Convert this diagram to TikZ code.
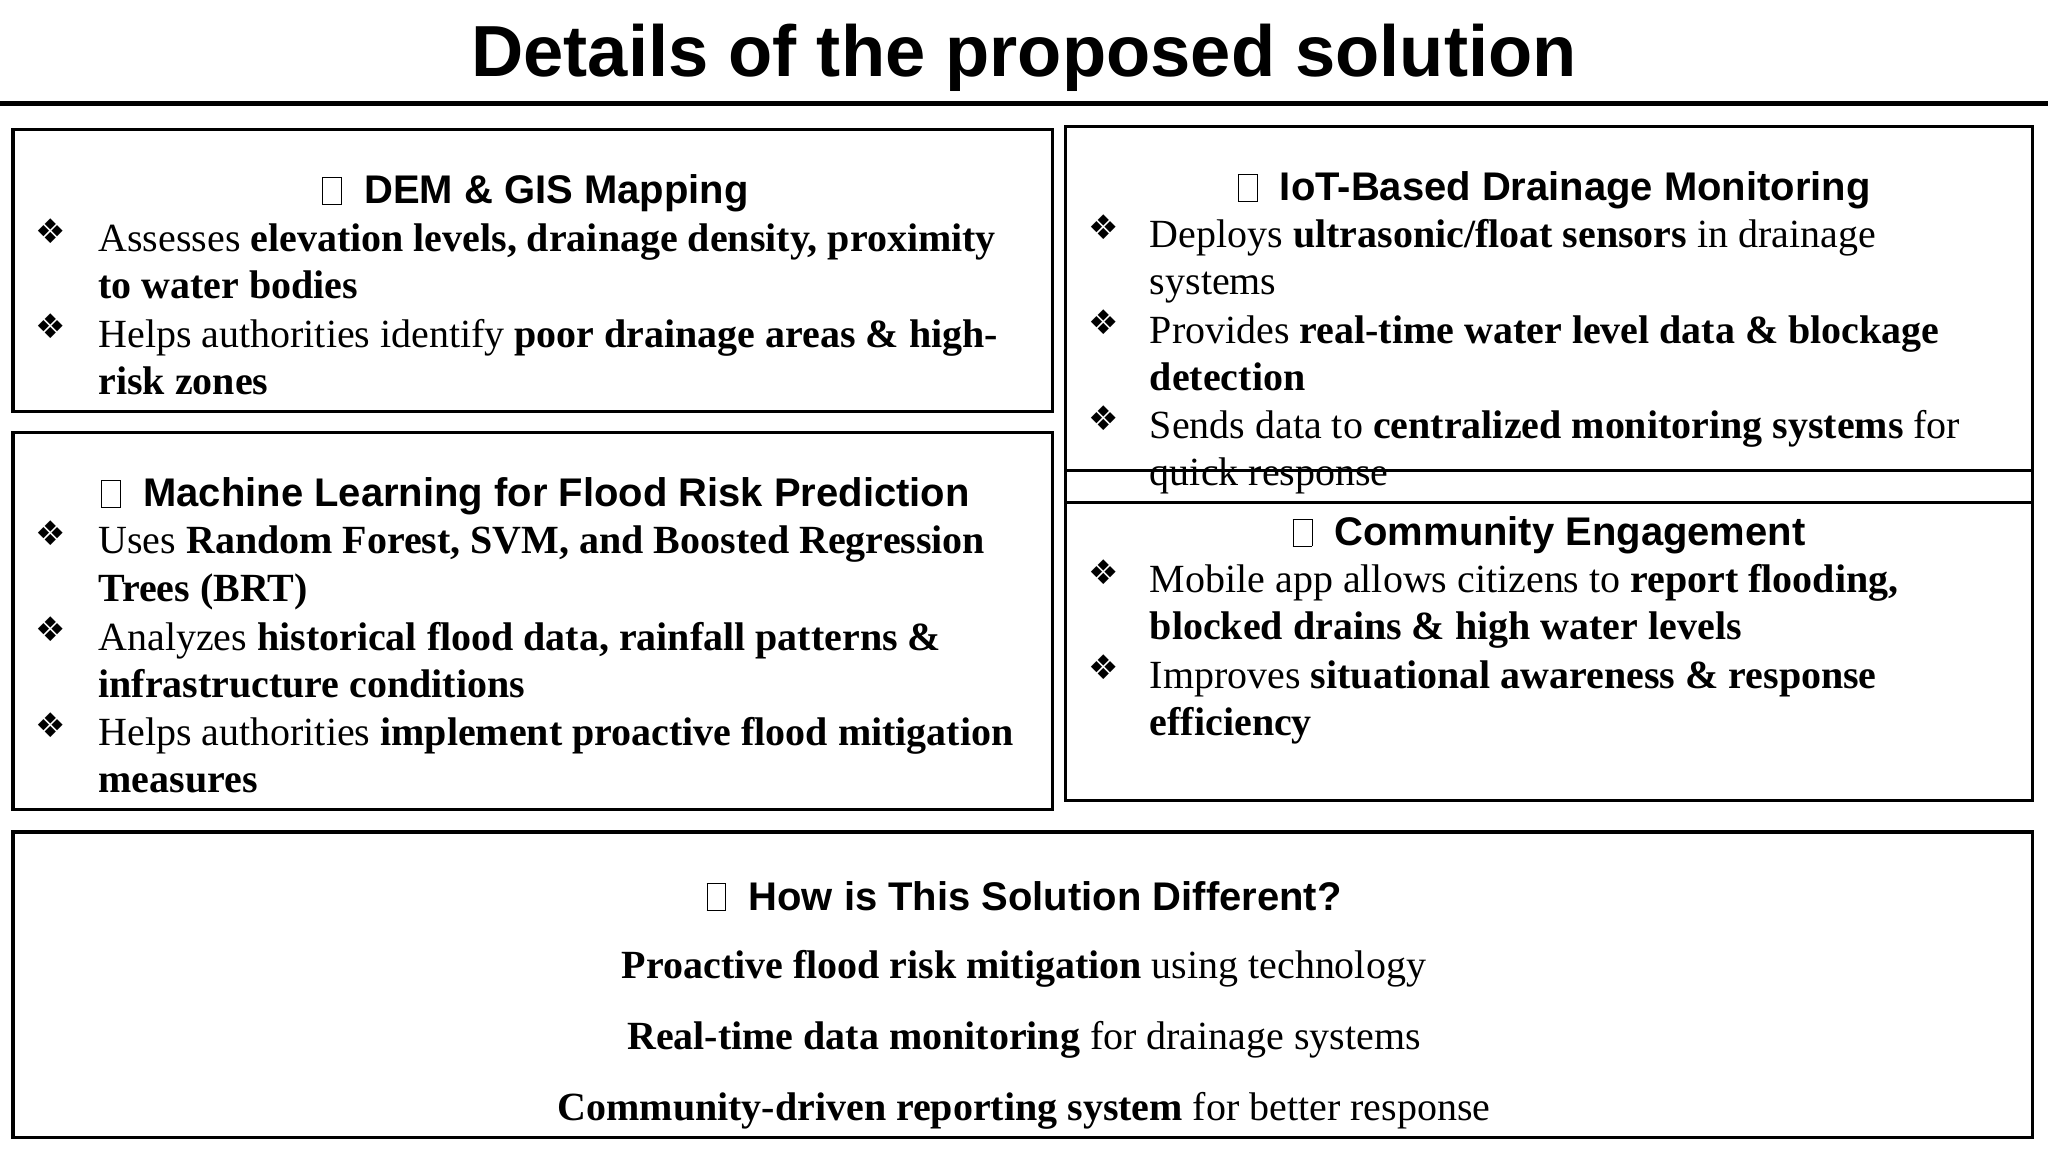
\documentclass[tikz,border=0pt]{standalone}
\usepackage{fontspec}
\setmainfont{Liberation Serif}
\setsansfont{Liberation Sans}
\newfontfamily\djv{DejaVu Sans}
\newcommand\tofu{{\setlength{\fboxsep}{0pt}\setlength{\fboxrule}{0.35pt}\fbox{\phantom{\rule{0.45em}{0.65em}}}}\ \ }
\begin{document}
\begin{tikzpicture}[x=0.5pt,y=-0.5pt,
  box/.style={draw=black,line width=1.2pt},
  hd/.style={font=\sffamily\bfseries\fontsize{15.3}{18}\selectfont,inner sep=0pt,yshift=-1.5pt},
  ln/.style={anchor=west,font=\fontsize{15.3}{18}\selectfont,inner sep=0pt,text height=0.7em,text depth=0.22em,yshift=-2.5pt},
  cl/.style={font=\fontsize{15.3}{18}\selectfont,inner sep=0pt,text height=0.7em,text depth=0.22em,yshift=-2.5pt},
  bl/.style={anchor=west,font=\djv\bfseries\fontsize{13}{14}\selectfont,inner sep=0pt}]
\useasboundingbox (0,0) rectangle (1568,882);
\fill[white] (0,0) rectangle (1568,882);
\node[font=\sffamily\bfseries\fontsize{27.7}{30}\selectfont] (title) at (784,44) {Details of the proposed solution};
\draw[line width=2pt] (0,79) coordinate (ta) -- (1568,79) coordinate (tb);
% boxes
\draw[box] (10,99) rectangle (806,315);
\draw[box] (10,331) rectangle (806,620);
\draw[box] (816,97) rectangle (1556,385);
\draw[box] (816,360) rectangle (1556,613);
\draw[box] (10,637) rectangle (1556,871);
% box 1
\node[hd] (h1) at (410,145) {\tofu DEM \& GIS Mapping};
\node[bl] (b11) at (27,177) {❖};
\node[ln] (l11) at (75,183) {Assesses \textbf{elevation levels, drainage density, proximity}};
\node[ln] (l12) at (75,219) {\textbf{to water bodies}};
\node[bl] (b12) at (27,250) {❖};
\node[ln] (l13) at (75,256) {Helps authorities identify \textbf{poor drainage areas \& high-}};
\node[ln] (l14) at (75,292) {\textbf{risk zones}};
% box 2
\node[hd] (h2) at (410,377) {\tofu Machine Learning for Flood Risk Prediction};
\node[bl] (b21) at (27,408) {❖};
\node[ln] (l21) at (75,414) {Uses \textbf{Random Forest, SVM, and Boosted Regression}};
\node[ln] (l22) at (75,451) {\textbf{Trees (BRT)}};
\node[bl] (b22) at (27,482) {❖};
\node[ln] (l23) at (75,488) {Analyzes \textbf{historical flood data, rainfall patterns \&}};
\node[ln] (l24) at (75,524) {\textbf{infrastructure conditions}};
\node[bl] (b23) at (27,555) {❖};
\node[ln] (l25) at (75,561) {Helps authorities \textbf{implement proactive flood mitigation}};
\node[ln] (l26) at (75,597) {\textbf{measures}};
% box 3
\node[hd] (h3) at (1190,143) {\tofu IoT-Based Drainage Monitoring};
\node[bl] (b31) at (833,174) {❖};
\node[ln] (l31) at (880,180) {Deploys \textbf{ultrasonic/float sensors} in drainage};
\node[ln] (l32) at (880,216) {systems};
\node[bl] (b32) at (833,247) {❖};
\node[ln] (l33) at (880,253) {Provides \textbf{real-time water level data \& blockage}};
\node[ln] (l34) at (880,289) {\textbf{detection}};
\node[bl] (b33) at (833,320) {❖};
\node[ln] (l35) at (880,326) {Sends data to \textbf{centralized monitoring systems} for};
\node[ln] (l36) at (880,362) {quick response};
% box 4
\node[hd] (h4) at (1186,407) {\tofu Community Engagement};
\node[bl] (b41) at (833,438) {❖};
\node[ln] (l41) at (880,444) {Mobile app allows citizens to \textbf{report flooding,}};
\node[ln] (l42) at (880,480) {\textbf{blocked drains \& high water levels}};
\node[bl] (b42) at (833,511) {❖};
\node[ln] (l43) at (880,517) {Improves \textbf{situational awareness \& response}};
\node[ln] (l44) at (880,553) {\textbf{efficiency}};
% box 5
\node[hd] (h5) at (784,683) {\tofu How is This Solution Different?};
\node[cl] (l51) at (784,739) {\textbf{Proactive flood risk mitigation} using technology};
\node[cl] (l52) at (784,794) {\textbf{Real-time data monitoring} for drainage systems};
\node[cl] (l53) at (784,848) {\textbf{Community-driven reporting system} for better response};
\end{tikzpicture}
\end{document}
